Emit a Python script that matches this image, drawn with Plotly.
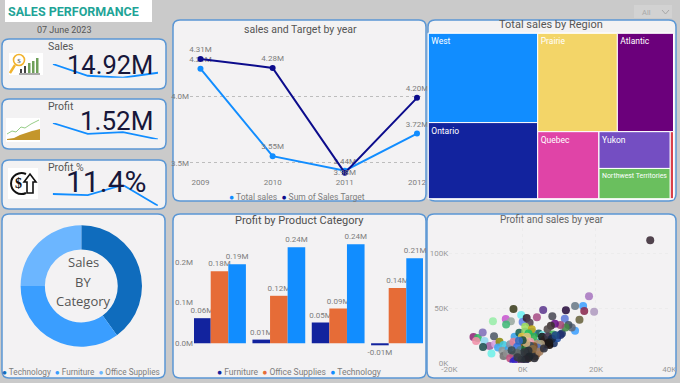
import base64
import plotly.graph_objects as go

W, H = 680, 383

# ---- data ----
YEARS = [2009, 2010, 2011, 2012]
TOTAL_SALES = [4.21, 3.55, 3.44, 3.72]
TOTAL_LABELS = ["4.21M", "3.55M", "3.44M", "3.72M"]
TARGET = [4.31, 4.285, 3.987, 4.20]
TARGET_LABELS = ["4.31M", "4.28M", "3.98M", "4.20M"]
PROFIT_YEAR = [0.43, 0.37, 0.38, 0.34]
PROFIT_PCT = [10.2, 10.1, 11.05, 9.1]

# treemap nodes: grouping nodes only carry the arrangement of the regions
NODES = ["All regions", "Left", "Right", "Upper", "Lower",
         "West", "Ontario", "Prairie", "Atlantic", "Quebec", "Small", "Yukon", "Northwest Territories", "Nunavut"]
NODE_PARENTS = ["", "All regions", "All regions", "Right", "Right",
                "Left", "Left", "Upper", "Upper", "Lower", "Lower", "Small", "Small", "Lower"]
NODE_SALES = [0, 0, 0, 0, 0, 3.59, 3.06, 2.88, 2.03, 1.51, 0, 0.96, 0.79, 0.085]
NODE_TEXT = ["", "", "", "", "", "West", "Ontario", "Prairie", "Atlantic", "Quebec", "", "Yukon",
             "Northwest Territories", ""]
NODE_COLORS = ["#FFFFFF"] * 5 + ["#118DFF", "#12239E", "#F3D568", "#6B007B", "#E044A7", "#FFFFFF", "#744EC2", "#6ABF5E", "#D9404A"]

CATEGORIES = ["Technology", "Furniture", "Office Supplies"]
CATEGORY_SALES = [5.97, 5.22, 3.73]
CATEGORY_COLORS = ["#0F6CBD", "#3A9EFF", "#6CB6FF"]

BAR_FURNITURE = [0.0616, 0.009, 0.051, -0.005]
BAR_OFFICE = [0.177, 0.1166, 0.0854, 0.136]
BAR_TECH = [0.194, 0.236, 0.243, 0.209]
LBL_FURNITURE = ["0.06M", "0.01M", "0.05M", "-0.01M"]
LBL_OFFICE = ["0.18M", "0.12M", "0.09M", "0.14M"]
LBL_TECH = ["0.19M", "0.24M", "0.24M", "0.21M"]

SC_X = [4.4, 5.5, 6.6, 6.2, 8.5, 9.4, 10.7, 7.5, 2.5, 4.8, 3.5, 7.3,
        -13.4, -12.2, -12.7, -10.9, -10.4, -9.0, -10.8, -7.8, -7.5, -6.3, -8.5, -6.7, -5.2, -5.5, -5.2, -3.8, -3.4,
        -8.1, -4.6, -3.2, -4.5, -2.5, -0.4, 0.0, 1.1, 1.9, 3.9, 5.6, 8.1, 11.5, 11.8, 15.5, 14.3, 16.5, 16.8,
        18.1, 19.5, 34.8, 14.3, 13.4, 12.5, 11.7, 10.3, 8.8, 7.7, 6.8, 10.3, 8.3,
        -2.2, -0.9, 0.7, 0.7, 2.5, -0.2, 1.6, 3.0, 1.2, 5.3, 2.1, -2.5, 0.3, -1.5, 4.8, 5.5, 3.5, 4.4,
        -0.6, 0.7, 2.5, 3.9, -4.3, -2.5, -3.4, -2.0, 0.7, -1.1, -2.5, 1.6, 0.7, -0.2,
        6.0, 7.0, 8.0, 9.0, 6.5, 5.0, 4.0, 3.0, 2.0, 1.0, 0.0, -1.0, 3.5, 2.4, 1.3, -0.8,
        4.6, 5.8, 7.2, 2.8, 1.6, 0.4, -1.6, -3.0, 3.2, 1.8, 0.9, -0.4, -1.4]
SC_Y = [26.8, 25.3, 23.8, 19.2, 17.7, 22.3, 26.8, 20.7, 28.4, 19.2, 17.7, 16.2,
        23.5, 22.6, 19.8, 27.7, 19.8, 15.2, 14.3, 24.1, 17.0, 19.2, 8.5, 14.0, 16.2, 11.0, 6.1, 12.2, 16.8,
        37.8, 39.9, 37.8, 35.0, 49.1, 43.6, 37.2, 40.9, 36.6, 41.5, 48.2, 42.4, 40.2, 47.9, 39.3, 51.8, 51.8, 47.3,
        60.7, 46.6, 112.0, 29.3, 32.3, 34.5, 32.3, 34.5, 35.7, 33.8, 30.5, 25.3, 25.9,
        23.8, 27.4, 32.9, 28.4, 30.5, 23.8, 26.8, 23.8, 23.8, 23.8, 19.2, 19.2, 17.7, 14.6, 14.6, 14.6, 11.6, 12.2,
        11.6, 13.1, 11.0, 8.5, 8.5, 7.0, 4.0, 2.4, 0.9, 0.9, 0.9, 4.0, 7.0, 4.0,
        21.0, 24.0, 22.0, 25.0, 17.0, 17.0, 14.0, 15.0, 15.5, 18.0, 20.5, 20.0, 6.0, 8.0, 9.0, 8.0,
        10.0, 13.0, 18.5, 12.5, 11.0, 9.5, 9.0, 11.5, 4.0, 5.5, 3.0, 2.5, 5.0]
SC_COLORS = ["#186060", "#80F0F0", "#D880E0", "#504048", "#183060", "#2050A0", "#183060", "#284028", "#4080D8", "#30A0A0", "#B09070", "#100808",
             "#902878", "#30B860", "#F090A8", "#7F70B8", "#90D8F0", "#A060A0", "#1F5050", "#505A68", "#D8A0E0", "#8A8A10", "#70F0E8", "#3FA8F0", "#40C8E0", "#909898", "#707070", "#38A0E8", "#8890A0",
             "#98EDA8", "#C858D0", "#9AA8A0", "#40B878", "#3C3F1F", "#6FEFF5", "#6080E8", "#352030", "#504050", "#A85088", "#5F3A90", "#4A4A55", "#5F78D8", "#2A1040", "#6A6440", "#6A7A88", "#3FA0FF", "#8B2A50",
             "#A878C0", "#B09CC0", "#3A2A35", "#3FA0FF", "#606878", "#405060", "#458848", "#A04878", "#6A1088", "#3A3030", "#504848", "#203070", "#40B050",
             "#38A0E8", "#186050", "#A0E060", "#90D070", "#C0A818", "#E0C040", "#20C060", "#30B050", "#E0C080", "#181818", "#F0A0B0", "#E08098", "#705010", "#3070E0", "#C0A070", "#4060D0", "#40A0A0", "#F07020",
             "#508090", "#186828", "#8A5A20", "#C06030", "#909090", "#506060", "#C05080", "#4040E0", "#4030A0", "#E060C0", "#3020C0", "#403020", "#2A3038", "#303840",
             "#2A2020", "#3A3A48", "#182848", "#204888", "#281010", "#B0A080", "#5070C0", "#7A4A20", "#3A5060", "#D0B080", "#1A4A3A", "#306AC0", "#5A4A38", "#2A3038", "#403020", "#4A5A60",
             "#A08060", "#2F2F38", "#1A1818", "#8A6A40", "#283038", "#30363C", "#606868", "#3A4A50", "#282830", "#1F262C", "#26262E", "#2A3038", "#353A40"]

# ---- helpers ----
FONT = "Roboto"
GRAY = "#7d7d7d"
BG = "#CACACA"
CARD = "#F3F2F3"
EDGE = "#5B97D5"


def fx(p):
    return p / W


def fy(p):
    return 1 - p / H


layout = {}
shapes = []
annotations = []
images = []
fig = go.Figure()
axis_no = [0]


def txt(x, y, s, size=9, color=GRAY, anchor="center", family=FONT):
    annotations.append(dict(xref="paper", yref="paper", x=fx(x), y=fy(y), text=s, showarrow=False,
                            xanchor=anchor, yanchor="middle", font=dict(size=size, color=color, family=family),
                            borderpad=0, borderwidth=0))


def card(x0, y0, x1, y1, r=7):
    c = lambda a, b: f"{fx(a):.5f},{fy(b):.5f}"
    path = (f"M{c(x0 + r, y0)} L{c(x1 - r, y0)} Q{c(x1, y0)} {c(x1, y0 + r)} L{c(x1, y1 - r)} "
            f"Q{c(x1, y1)} {c(x1 - r, y1)} L{c(x0 + r, y1)} Q{c(x0, y1)} {c(x0, y1 - r)} "
            f"L{c(x0, y0 + r)} Q{c(x0, y0)} {c(x0 + r, y0)} Z")
    shapes.append(dict(type="path", xref="paper", yref="paper", path=path, fillcolor=CARD,
                       line=dict(color=EDGE, width=1.5), layer="below"))


def rect(x0, y0, x1, y1, fill, line=None):
    shapes.append(dict(type="rect", xref="paper", yref="paper", x0=fx(x0), x1=fx(x1), y0=fy(y1), y1=fy(y0),
                       fillcolor=fill, line=dict(width=1 if line else 0, color=line or fill), layer="below"))


def axes(px0, px1, py0, py1, xkw=None, ykw=None):
    axis_no[0] += 1
    n = axis_no[0]
    sx = "" if n == 1 else str(n)
    base = dict(visible=False, fixedrange=True, showgrid=False, zeroline=False)
    layout["xaxis" + sx] = {**base, "domain": [fx(px0), fx(px1)], "anchor": "y" + sx, **(xkw or {})}
    layout["yaxis" + sx] = {**base, "domain": [fy(py1), fy(py0)], "anchor": "x" + sx, **(ykw or {})}
    return "x" + sx, "y" + sx


def legend(x, y, items, size=9):
    s = "  ".join(f"<span style='color:{c}'>●</span> {t}" for t, c in items)
    txt(x, y, s, size=size)


def svg_image(svg, x0, y0, x1, y1):
    src = "data:image/svg+xml;base64," + base64.b64encode(svg.encode()).decode()
    images.append(dict(source=src, xref="paper", yref="paper", x=fx(x0), y=fy(y0), sizex=(x1 - x0) / W,
                       sizey=(y1 - y0) / H, xanchor="left", yanchor="top", sizing="stretch", layer="above"))


# ---- header ----
rect(5, 0, 152, 22, "#FFFFFF")
txt(8, 11, "<b>SALES PERFORMANCE</b>", size=12.5, color="#1FA497", anchor="left")
txt(64, 30, "07 June 2023", size=9, color="#555555")
rect(634, 5, 672, 18, "#D2D2D2")
txt(642, 12, "All", size=7.5, color="#A8A8A8", anchor="left")
shapes.append(dict(type="path", xref="paper", yref="paper", layer="above",
                   path=f"M{fx(662)},{fy(10)} L{fx(665.5)},{fy(14)} L{fx(669)},{fy(10)}",
                   line=dict(color="#A8A8A8", width=1)))

# ---- cards ----
for box in [(2, 39, 166, 89), (2, 99, 166, 149), (2, 160, 166, 209), (173, 20, 426, 201), (428, 20, 676, 201),
            (2, 214, 165, 378), (173, 214, 426, 378), (427, 214, 676, 378)]:
    card(*box)

# ---- KPI sparklines ----
SPARK = "#118DFF"
for vals, top, bottom in [(TOTAL_SALES, 64, 77.7), (PROFIT_YEAR, 123, 139.3), (PROFIT_PCT, 185, 205.7)]:
    xa, ya = axes(52.7, 158, top, bottom, dict(range=[2009, 2012]), dict(range=[min(vals), max(vals)]))
    fig.add_trace(go.Scatter(x=YEARS, y=vals, xaxis=xa, yaxis=ya, mode="lines", cliponaxis=False, showlegend=False,
                             hoverinfo="skip", line=dict(color=SPARK, width=1.8)))

NUM = "#17173A"
txt(48, 46, "Sales", size=10.5, color="#555555", anchor="left")
txt(48, 107, "Profit", size=10.5, color="#555555", anchor="left")
txt(48, 167, "Profit %", size=10.5, color="#555555", anchor="left")
txt(153, 65, "14.92M", size=25.5, color=NUM, anchor="right")
txt(153, 121, "1.52M", size=26, color=NUM, anchor="right")
txt(146, 181, "11.4%", size=30, color=NUM, anchor="right")

# icons
svg_image("""<svg xmlns='http://www.w3.org/2000/svg' viewBox='0 0 34 22'><rect width='34' height='22' fill='white'/>
<circle cx='10' cy='7' r='5.5' fill='white' stroke='#F2B32E' stroke-width='1.6'/>
<text x='10' y='9.5' font-size='7' text-anchor='middle' fill='#555'>$</text>
<path d='M6 12 L1 20' stroke='#F2B32E' stroke-width='2.4'/>
<rect x='11' y='16' width='2' height='4' fill='#444'/><rect x='15' y='13' width='2' height='7' fill='#444'/>
<rect x='19' y='10' width='2.5' height='10' fill='#6FA05A'/><rect x='23' y='8' width='2.5' height='12' fill='#6FA05A'/>
<rect x='27' y='5' width='2.5' height='15' fill='#6FA05A'/><rect x='10' y='20.5' width='21' height='1' fill='#555'/></svg>""",
          9, 53, 43, 75)
svg_image("""<svg xmlns='http://www.w3.org/2000/svg' viewBox='0 0 34 24'><rect width='34' height='24' fill='white'/>
<path d='M1 16 L6 13 L10 14 L15 9 L19 10 L25 6 L33 2' fill='none' stroke='#7CC06A' stroke-width='0.8'/>
<path d='M1 21 L8 20 L14 17 L20 15 L26 13 L34 11 L34 22 L1 22 Z' fill='#C4962B'/></svg>""",
          6, 118, 40, 142)
svg_image("""<svg xmlns='http://www.w3.org/2000/svg' viewBox='0 0 30 31'><rect width='30' height='31' fill='white'/>
<path d='M18 6 A10.5 10.5 0 1 0 18 25' fill='none' stroke='#111' stroke-width='2'/>
<text x='10.5' y='20' font-size='14' font-weight='bold' text-anchor='middle' fill='#111'>$</text>
<path d='M19 25 V14 H16 L22 6 L28 14 H25 V25 Z' fill='white' stroke='#111' stroke-width='1.6'/></svg>""",
          8, 168, 38, 199)

# ---- line chart ----
txt(300, 30, "sales and Target by year", size=10.5, color="#555555")
xa, ya = axes(190, 424, 45, 176,
              dict(range=[2008.855, 2012.097], visible=True, tickvals=YEARS, ticktext=[str(v) for v in YEARS],
                   tickfont=dict(size=8, color=GRAY, family=FONT), showline=False, ticks=""),
              dict(range=[3.4, 4.389], visible=True, tickvals=[3.5, 4.0], ticktext=["3.5M", "4.0M"],
                   tickfont=dict(size=8, color=GRAY, family=FONT), showgrid=True, gridcolor="#BDBDBD",
                   griddash="dot", gridwidth=1, showline=False, ticks=""))
fig.add_trace(go.Scatter(x=YEARS, y=TOTAL_SALES, xaxis=xa, yaxis=ya, mode="lines+markers+text", text=TOTAL_LABELS,
                         textposition="top center", textfont=dict(size=8, color=GRAY, family=FONT),
                         cliponaxis=False, showlegend=False, hoverinfo="skip",
                         line=dict(color="#118DFF", width=2), marker=dict(color="#118DFF", size=6)))
xa, ya = axes(190, 424, 45, 176, dict(range=[2008.855, 2012.097]), dict(range=[3.978, 4.35]))
fig.add_trace(go.Scatter(x=YEARS, y=TARGET, xaxis=xa, yaxis=ya, mode="lines+markers+text", text=TARGET_LABELS,
                         textposition=["top center", "top center", "middle center", "top center"],
                         textfont=dict(size=8, color=GRAY, family=FONT),
                         cliponaxis=False, showlegend=False, hoverinfo="skip",
                         line=dict(color="#0C0C8C", width=2), marker=dict(color="#0C0C8C", size=6)))
legend(297, 197, [("Total sales", "#118DFF"), ("Sum of Sales Target", "#0C0C8C")], size=8.5)

# ---- treemap ----
txt(551, 25, "Total sales by Region", size=11, color="#555555")
fig.add_trace(go.Treemap(labels=NODES, parents=NODE_PARENTS, values=NODE_SALES, text=NODE_TEXT,
                         textinfo="text", textposition="top left", sort=False, branchvalues="remainder",
                         domain=dict(x=[fx(428.3), fx(673.5)], y=[fy(198.7), fy(33.3)]),
                         marker=dict(colors=NODE_COLORS, line=dict(color="#FFFFFF", width=1), pad=dict(t=0, l=0, r=0, b=0)),
                         tiling=dict(packing="slice-dice", pad=0), pathbar=dict(visible=False),
                         insidetextfont=dict(size=8.5, color="#FFFFFF", family=FONT), hoverinfo="skip"))

# ---- donut ----
fig.add_trace(go.Pie(labels=CATEGORIES, values=CATEGORY_SALES, hole=0.6, sort=False, direction="clockwise", rotation=0,
                     marker=dict(colors=CATEGORY_COLORS, line=dict(width=0)), textinfo="none", showlegend=False,
                     hoverinfo="skip", domain=dict(x=[fx(20.6), fx(142)], y=[fy(346.7), fy(225.3)])))
for yy, s in [(262, "Sales"), (282, "BY"), (301, "Category")]:
    txt(83, yy, s, size=13, color="#555555", family="Open Sans")
legend(81, 372, list(zip(CATEGORIES, CATEGORY_COLORS)), size=8.2)

# ---- bars ----
txt(299, 220, "Profit by Product Category", size=11, color="#4f4f4f")
xa, ya = axes(194, 423, 243, 358,
              dict(type="category", categoryorder="array", categoryarray=[str(v) for v in YEARS], range=[-0.43, 3.43]),
              dict(range=[-0.0362, 0.2463], visible=True, tickvals=[0, 0.1, 0.2], ticktext=["0.0M", "0.1M", "0.2M"],
                   tickfont=dict(size=8, color=GRAY, family=FONT), ticks="", showline=False))
for vals, lbls, col in [(BAR_FURNITURE, LBL_FURNITURE, "#12239E"), (BAR_OFFICE, LBL_OFFICE, "#E66C37"),
                        (BAR_TECH, LBL_TECH, "#118DFF")]:
    fig.add_trace(go.Bar(x=[str(v) for v in YEARS], y=vals, xaxis=xa, yaxis=ya, text=lbls, textposition="outside",
                         constraintext="none", textfont=dict(size=8, color=GRAY, family=FONT), textangle=0, cliponaxis=False,
                         showlegend=False, hoverinfo="skip", marker=dict(color=col, line=dict(width=0))))
legend(299, 372, [("Furniture", "#12239E"), ("Office Supplies", "#E66C37"), ("Technology", "#118DFF")], size=8.5)

# ---- scatter ----
txt(552, 219, "Profit and sales by year", size=10, color="#666666")
xa, ya = axes(449.3, 669.3, 228, 362.7,
              dict(range=[-20, 40], visible=True, tickvals=[-20, 0, 20, 40], ticktext=["-20K", "0K", "20K", "40K"],
                   tickfont=dict(size=8, color="#999999", family=FONT), showgrid=True, gridcolor="#ECECEC", griddash="dot", ticks=""),
              dict(range=[0, 123.2], visible=True, tickvals=[0, 50, 100], ticktext=["0K", "50K", "100K"],
                   tickfont=dict(size=8, color="#999999", family=FONT), showgrid=True, gridcolor="#ECECEC", griddash="dot", ticks=""))
fig.add_trace(go.Scatter(x=SC_X, y=SC_Y, xaxis=xa, yaxis=ya, mode="markers", showlegend=False, hoverinfo="skip",
                         marker=dict(color=SC_COLORS, size=8, opacity=0.88, line=dict(width=0))))

fig.update_layout(**layout, width=W, height=H, autosize=False,
                  margin=dict(l=0, r=0, t=0, b=0, pad=0, autoexpand=False), paper_bgcolor=BG,
                  plot_bgcolor="rgba(0,0,0,0)", shapes=shapes, annotations=annotations, images=images,
                  barmode="group", bargap=0.11, bargroupgap=0, showlegend=False, font=dict(family=FONT))
fig.write_html("out.html", config=dict(displayModeBar=False), post_script="document.body.style.margin='0';")
